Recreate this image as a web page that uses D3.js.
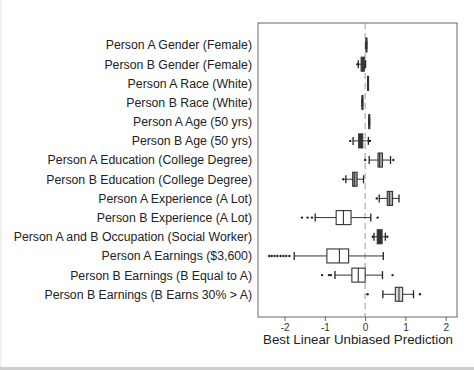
<!DOCTYPE html>
<html>
<head>
<meta charset="utf-8">
<script src="https://cdn.jsdelivr.net/npm/d3@7"></script>
<style>
  html, body { margin: 0; padding: 0; background: #fff; }
  svg { display: block; font-family: "Liberation Sans", Arial, sans-serif; }
</style>
</head>
<body>
<svg id="chart" width="474" height="370"></svg>
<script>
// ---- Data ----
const categories = [
  "Person A Gender (Female)",
  "Person B Gender (Female)",
  "Person A Race (White)",
  "Person B Race (White)",
  "Person A Age (50 yrs)",
  "Person B Age (50 yrs)",
  "Person A Education (College Degree)",
  "Person B Education (College Degree)",
  "Person A Experience (A Lot)",
  "Person B Experience (A Lot)",
  "Person A and B Occupation (Social Worker)",
  "Person A Earnings ($3,600)",
  "Person B Earnings (B Equal to A)",
  "Person B Earnings (B Earns 30% > A)"
];
// five-number summaries: [whiskerLow, q1, median, q3, whiskerHigh]
const whiskerLow  = [0.02, -0.17, 0.06, -0.08, 0.09, -0.30, 0.10, -0.48, 0.35, -1.24, 0.22, -1.76, -0.75, 0.44];
const q1          = [0.02, -0.10, 0.06, -0.08, 0.09, -0.16, 0.32, -0.31, 0.55, -0.72, 0.30, -0.95, -0.33, 0.75];
const median      = [0.03, -0.06, 0.07, -0.07, 0.10, -0.10, 0.36, -0.27, 0.60, -0.54, 0.35, -0.64, -0.17, 0.84];
const q3          = [0.04, -0.02, 0.08, -0.06, 0.11, -0.06, 0.43, -0.20, 0.68, -0.35, 0.42, -0.41, 0.00, 0.93];
const whiskerHigh = [0.04, 0.01, 0.08, -0.06, 0.11, 0.08, 0.63, -0.04, 0.84, 0.14, 0.50, 0.45, 0.43, 1.20];
const outliers = [
  [], [-0.19], [], [], [], [-0.37, 0.12], [0.0, 0.70], [-0.54], [0.29], [-1.57, -1.43, -1.32, 0.31],
  [0.19, 0.55], [-2.38, -2.32, -2.25, -2.18, -2.10, -2.03, -1.96, -1.88], [-1.07, -0.90, -0.85, 0.68], [0.06, 1.36]
];
const boxFill = ["#444", "#444", "#444", "#444", "#444", "#333", "#aaa", "#999", "#aaa", "#fff", "#333", "#fff", "#fff", "#ddd"];
const xTicks = [-2, -1, 0, 1, 2];
const xTitle = "Best Linear Unbiased Prediction";

// ---- Layout ----
const svg = d3.select("#chart");
const plot = { left: 258, right: 457, top: 23, bottom: 317 };

const x = d3.scaleLinear().domain([-2.66, 2.28]).range([plot.left, plot.right]);
const y = d3.scalePoint().domain(categories).range([45, 294.3]);

// bottom gray band of the image
svg.append("rect").attr("x", 0).attr("y", 367).attr("width", 474).attr("height", 3).attr("fill", "#ccc");
svg.append("rect").attr("x", 0).attr("y", 0).attr("width", 2).attr("height", 367).attr("fill", "#f0f0f0");

// zero reference line
svg.append("line")
  .attr("x1", x(0)).attr("x2", x(0))
  .attr("y1", plot.top).attr("y2", plot.bottom)
  .attr("stroke", "#aaa").attr("stroke-width", 1.2)
  .attr("stroke-dasharray", "6,4");

// frame
svg.append("rect")
  .attr("x", plot.left).attr("y", plot.top)
  .attr("width", plot.right - plot.left).attr("height", plot.bottom - plot.top)
  .attr("fill", "none").attr("stroke", "#666").attr("stroke-width", 1);

// x axis
const xAxis = d3.axisBottom(x).tickValues(xTicks).tickSize(4).tickPadding(3)
  .tickFormat(d => String(d));
const gx = svg.append("g").attr("transform", `translate(0,${plot.bottom})`).call(xAxis);
gx.select(".domain").remove();
gx.selectAll(".tick line").attr("stroke", "#666");
gx.selectAll(".tick text").attr("fill", "#333").attr("font-size", "10px")
  .attr("font-family", "Liberation Sans, Arial, sans-serif");

svg.append("text")
  .attr("x", (plot.left + plot.right) / 2 + 0.5).attr("y", 344)
  .attr("text-anchor", "middle").attr("font-size", "13.3px").attr("fill", "#222")
  .text(xTitle);

// y labels
svg.append("g").selectAll("text").data(categories).join("text")
  .attr("x", 252).attr("y", d => y(d))
  .attr("dy", "0.36em")
  .attr("text-anchor", "end").attr("font-size", "12.3px").attr("fill", "#222")
  .text(d => d);

// boxplots
const boxH = 14, capH = 8;
const rows = categories.map((c, i) => ({
  c, i, lo: whiskerLow[i], q1: q1[i], md: median[i], q3: q3[i], hi: whiskerHigh[i], out: outliers[i]
}));
const g = svg.append("g").selectAll("g").data(rows).join("g");

g.append("line")
  .attr("x1", d => x(d.lo)).attr("x2", d => x(d.hi))
  .attr("y1", d => y(d.c)).attr("y2", d => y(d.c))
  .attr("stroke", "#333").attr("stroke-width", 1);
g.append("line")
  .attr("x1", d => x(d.lo)).attr("x2", d => x(d.lo))
  .attr("y1", d => y(d.c) - capH / 2).attr("y2", d => y(d.c) + capH / 2)
  .attr("stroke", "#222").attr("stroke-width", 1.3);
g.append("line")
  .attr("x1", d => x(d.hi)).attr("x2", d => x(d.hi))
  .attr("y1", d => y(d.c) - capH / 2).attr("y2", d => y(d.c) + capH / 2)
  .attr("stroke", "#222").attr("stroke-width", 1.3);
g.append("rect")
  .attr("x", d => x(d.q1)).attr("width", d => Math.max(1, x(d.q3) - x(d.q1)))
  .attr("y", d => y(d.c) - boxH / 2).attr("height", boxH)
  .attr("fill", d => boxFill[d.i]).attr("stroke", "#333").attr("stroke-width", 1.1);
g.append("line")
  .attr("x1", d => x(d.md)).attr("x2", d => x(d.md))
  .attr("y1", d => y(d.c) - boxH / 2).attr("y2", d => y(d.c) + boxH / 2)
  .attr("stroke", "#333").attr("stroke-width", 1.1);
g.each(function(d) {
  d3.select(this).selectAll("circle").data(d.out).join("circle")
    .attr("cx", v => x(v)).attr("cy", y(d.c)).attr("r", 1.2)
    .attr("fill", "#222");
});
</script>
</body>
</html>
